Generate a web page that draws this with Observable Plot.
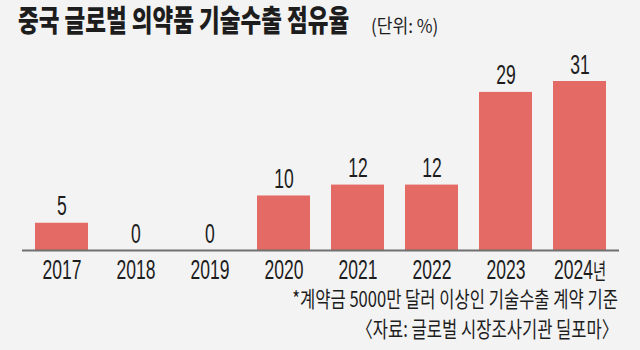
<!DOCTYPE html>
<html><head><meta charset="utf-8">
<script src="https://cdn.jsdelivr.net/npm/d3@7"></script>
<script src="https://cdn.jsdelivr.net/npm/@observablehq/plot@0.6"></script>
<style>
html,body{margin:0;padding:0;background:#f3f3f3;}
#page{width:640px;height:350px;overflow:hidden;background:#f3f3f3;}
#head{position:relative;height:46px;}
#foot{position:relative;height:64px;}
.t{position:absolute;white-space:nowrap;font-family:"Noto Sans CJK KR",sans-serif;color:#1d1d1d;}
#title{left:18px;top:0px;font-size:30px;line-height:36px;font-weight:900;transform:scaleX(0.75);transform-origin:left top;}
#unit{left:371px;top:15px;font-size:19px;line-height:19px;transform:scaleX(0.9);transform-origin:left top;}
#note1{right:22px;top:1px;font-size:21.5px;line-height:21.5px;transform:scaleX(0.77);transform-origin:right top;}
#note2{right:22px;top:31px;font-size:21.5px;line-height:21.5px;transform:scaleX(0.77);transform-origin:right top;}
#chart svg{display:block;}
</style></head>
<body>
<div id="page">
  <div id="head">
    <div class="t" id="title">중국 글로벌 의약품 기술수출 점유율</div>
    <div class="t" id="unit">(단위: %)</div>
  </div>
  <div id="chart"></div>
  <div id="foot">
    <div class="t" id="note1">*계약금 5000만 달러 이상인 기술수출 계약 기준</div>
    <div class="t" id="note2">〈자료: 글로벌 시장조사기관 딜포마〉</div>
  </div>
</div>
<script>
const years = ["2017", "2018", "2019", "2020", "2021", "2022", "2023", "2024년"];
const shares = [5, 0, 0, 10, 12, 12, 29, 31];

const data = years.map((year, i) => ({year, share: shares[i]}));
const FONT = "'Liberation Sans', 'Noto Sans CJK KR', sans-serif";

const chart = Plot.plot({
  width: 640,
  height: 240,
  marginLeft: 22,
  marginRight: 21,
  marginTop: 35,
  marginBottom: 36,
  x: {domain: years, paddingInner: 0.29, paddingOuter: 0.14, axis: null},
  y: {domain: [0, 31], axis: null},
  style: {background: "transparent", fontFamily: FONT, fontSize: "27px", color: "#1d1d1d"},
  marks: [
    Plot.barY(data, {x: "year", y: "share", fill: "#e46b65"}),
    Plot.ruleY([0], {stroke: "#707070", strokeWidth: 2}),
    Plot.axisX({tickSize: 0, tickPadding: 9, fontSize: 27, fill: "#1d1d1d", label: null}),
    Plot.text(data, {x: "year", y: "share", text: d => String(d.share), lineAnchor: "bottom", dy: -8, fontSize: 27, fill: "#1d1d1d"})
  ]
});

chart.querySelectorAll("text").forEach(t => {
  let tr = t.getAttribute("transform");
  if (!tr) {
    const x = t.getAttribute("x") || 0, y = t.getAttribute("y") || 0;
    t.removeAttribute("x"); t.removeAttribute("y");
    tr = `translate(${x},${y})`;
  }
  t.setAttribute("transform", tr + " scale(0.65,1)");
  if (t.textContent === "2024년") {
    t.textContent = "2024";
    const ts = document.createElementNS("http://www.w3.org/2000/svg", "tspan");
    ts.setAttribute("font-size", "22");
    ts.textContent = "년";
    t.appendChild(ts);
  }
});

document.getElementById("chart").appendChild(chart);
</script>
</body></html>
